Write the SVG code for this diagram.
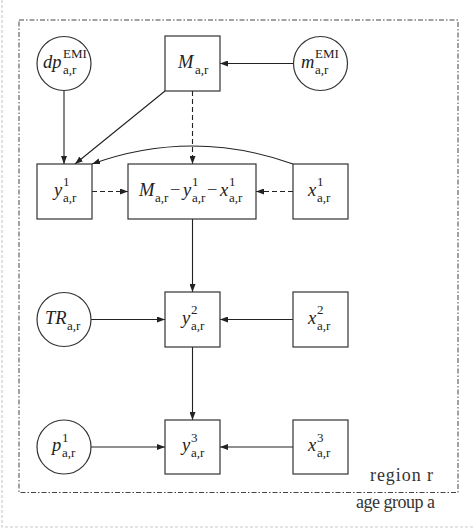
<svg xmlns="http://www.w3.org/2000/svg" width="474" height="530" viewBox="0 0 474 530">
<defs>
<marker id="ah" viewBox="0 0 8 6" refX="8" refY="3" markerWidth="8" markerHeight="6" markerUnits="userSpaceOnUse" orient="auto">
<path d="M0,0 L8,3 L0,6 Z" fill="#222"/>
</marker>
</defs>
<style>
.nd{fill:#fff;stroke:#333;stroke-width:1.2}
.e{fill:none;stroke:#222;stroke-width:1.1;marker-end:url(#ah)}
.d{stroke-dasharray:5 3}
.m{font-style:italic;font-size:18.5px}
.s{font-style:normal;font-size:13px}
.o{font-style:normal;font-size:18.5px}
.lbl{fill:#333;font-size:18px}
</style>
<rect width="474" height="530" fill="#fff"/>
<g font-family="Liberation Serif, serif" fill="#222">
<g id="frame">
<path d="M2,0 V527 H474" fill="none" stroke="#ccc" stroke-width="1.2" stroke-dasharray="3 2"/>
<rect x="19" y="20" width="439" height="472.5" fill="none" stroke="#444" stroke-width="1" stroke-dasharray="5 2 1.5 2"/>
<text class="lbl" x="370" y="481" textLength="63">region r</text>
<text class="lbl" x="356" y="508" textLength="79">age group a</text>
</g>
<g id="connectors">
<line class="e" x1="64" y1="91" x2="64" y2="164"/>
<line class="e" x1="165" y1="91" x2="75" y2="164"/>
<line class="e d" x1="192.5" y1="91" x2="192.5" y2="164"/>
<line class="e" x1="293" y1="63.5" x2="220" y2="63.5"/>
<path class="e" d="M293,164 Q192,128 92,164"/>
<line class="e d" x1="92" y1="191.5" x2="128" y2="191.5"/>
<line class="e d" x1="293" y1="191.5" x2="256" y2="191.5"/>
<line class="e" x1="192.5" y1="219" x2="192.5" y2="292"/>
<line class="e" x1="91" y1="319.5" x2="165" y2="319.5"/>
<line class="e" x1="293" y1="319.5" x2="220" y2="319.5"/>
<line class="e" x1="192.5" y1="347" x2="192.5" y2="420"/>
<line class="e" x1="91" y1="447" x2="165" y2="447"/>
<line class="e" x1="293" y1="447" x2="220" y2="447"/>
</g>
<g id="dp">
<circle class="nd" cx="64" cy="63.5" r="27"/>
<text class="m" x="43" y="67.5">dp</text>
<text class="s" x="63" y="57.5">EMI</text>
<text class="s" x="63" y="73.5">a,r</text>
</g>
<g id="M">
<rect class="nd" x="165" y="36" width="55" height="55"/>
<text class="m" x="178" y="68">M</text>
<text class="s" x="195" y="73.5">a,r</text>
</g>
<g id="m">
<circle class="nd" cx="320.5" cy="63.5" r="27"/>
<text class="m" x="301" y="67.5">m</text>
<text class="s" x="315" y="57.5">EMI</text>
<text class="s" x="315" y="73.5">a,r</text>
</g>
<g id="y1">
<rect class="nd" x="37" y="164" width="55" height="55"/>
<text class="m" x="54" y="195.5">y</text>
<text class="s" x="63" y="186">1</text>
<text class="s" x="63" y="201.5">a,r</text>
</g>
<g id="Myx">
<rect class="nd" x="128" y="164" width="128" height="55"/>
<text class="m" x="139" y="196">M</text>
<text class="s" x="155" y="201.5">a,r</text>
<text class="o" x="170" y="196">−</text>
<text class="m" x="183" y="195.5">y</text>
<text class="s" x="192" y="186">1</text>
<text class="s" x="192" y="201.5">a,r</text>
<text class="o" x="207" y="196">−</text>
<text class="m" x="220" y="195.5">x</text>
<text class="s" x="229" y="186">1</text>
<text class="s" x="229" y="201.5">a,r</text>
</g>
<g id="x1">
<rect class="nd" x="293" y="164" width="55" height="55"/>
<text class="m" x="308" y="195.5">x</text>
<text class="s" x="317" y="186">1</text>
<text class="s" x="317" y="201.5">a,r</text>
</g>
<g id="TR">
<circle class="nd" cx="64" cy="319.5" r="27"/>
<text class="m" x="45" y="324">TR</text>
<text class="s" x="67" y="329.5">a,r</text>
</g>
<g id="y2">
<rect class="nd" x="165" y="292" width="55" height="55"/>
<text class="m" x="182" y="323.5">y</text>
<text class="s" x="191" y="314">2</text>
<text class="s" x="191" y="329.5">a,r</text>
</g>
<g id="x2">
<rect class="nd" x="293" y="292" width="55" height="55"/>
<text class="m" x="308" y="323.5">x</text>
<text class="s" x="317" y="314">2</text>
<text class="s" x="317" y="329.5">a,r</text>
</g>
<g id="p1">
<circle class="nd" cx="64" cy="447" r="27"/>
<text class="m" x="52" y="451">p</text>
<text class="s" x="62" y="441.5">1</text>
<text class="s" x="62" y="457">a,r</text>
</g>
<g id="y3">
<rect class="nd" x="165" y="420" width="55" height="54"/>
<text class="m" x="182" y="451">y</text>
<text class="s" x="191" y="441.5">3</text>
<text class="s" x="191" y="457">a,r</text>
</g>
<g id="x3">
<rect class="nd" x="293" y="420" width="55" height="54"/>
<text class="m" x="308" y="451">x</text>
<text class="s" x="317" y="441.5">3</text>
<text class="s" x="317" y="457">a,r</text>
</g>
</g>
</svg>
